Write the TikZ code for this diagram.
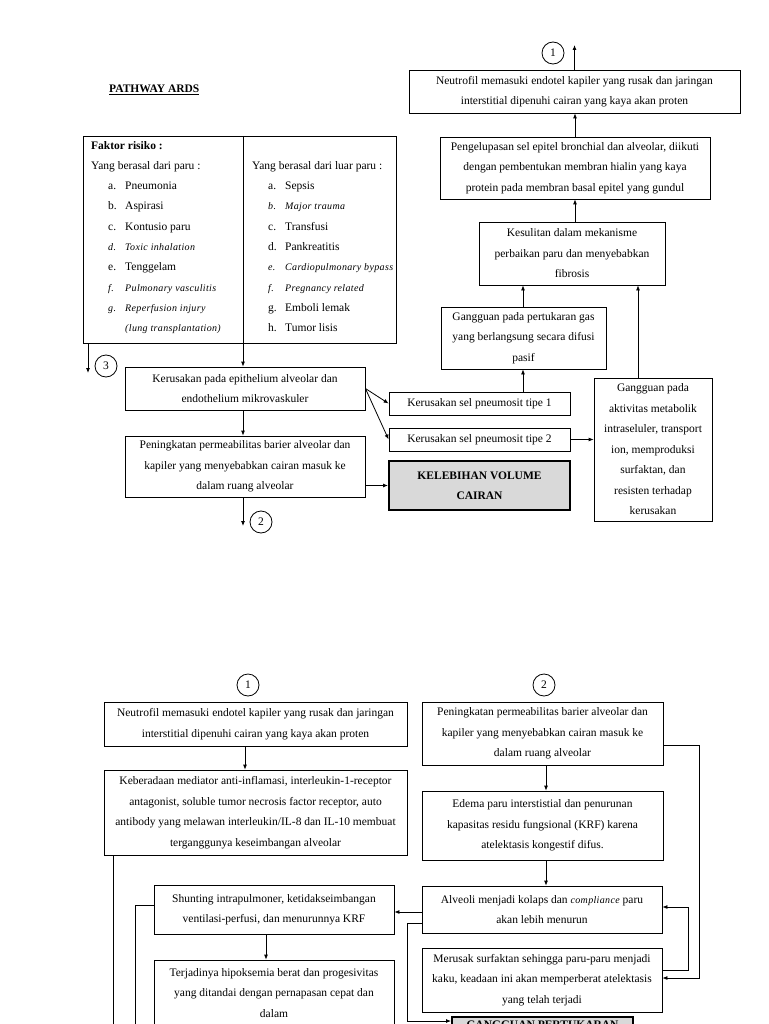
\documentclass[tikz,border=0pt]{standalone}
\usepackage{fontspec}
\setmainfont{Liberation Serif}
\newfontfamily\spit[LetterSpace=3.5]{Liberation Serif}
\usetikzlibrary{arrows.meta,calc}
\newcommand\myfs{\fontsize{11.5}{20.5}\selectfont}
\newcommand\myit{\spit\itshape\fontsize{10}{20.5}\selectfont}
\tikzset{
  box/.style={draw, line width=0.8pt, align=center, inner sep=0pt, font=\myfs},
  graybox/.style={box, fill=black!15, line width=2pt, font=\myfs\bfseries},
  circ/.style={draw, circle, line width=0.8pt, minimum size=22pt, inner sep=0pt, font=\myfs},
  ln/.style={line width=0.8pt},
  arr/.style={line width=0.8pt, -{Latex[length=5pt,width=4pt]}},
  itm/.style={anchor=base west, inner sep=0pt, font=\myfs},
  itmi/.style={anchor=base west, inner sep=0pt, font=\myit},
}
\begin{document}
\begin{tikzpicture}[x=1pt,y=-1pt]
\useasboundingbox (0,0) rectangle (768,1024);
\clip (0,0) rectangle (768,1024);

% ---------- top part ----------
\node[anchor=base west, inner sep=0pt, font=\myfs\bfseries] (title) at (109,93) {\underline{PATHWAY ARDS}};

\node[circ] (c1t) at (553,53) {1};
\node[box, minimum width=331, minimum height=43] (N1) at (574.5,91.5)
  {Neutrofil memasuki endotel kapiler yang rusak dan jaringan\\interstitial dipenuhi cairan yang kaya akan proten};
\node[box, minimum width=270, minimum height=62] (P) at (575,168)
  {Pengelupasan sel epitel bronchial dan alveolar, diikuti\\dengan pembentukan membran hialin yang kaya\\protein pada membran basal epitel yang gundul};
\node[box, minimum width=186, minimum height=63] (K) at (572,253.5)
  {Kesulitan dalam mekanisme\\perbaikan paru dan menyebabkan\\fibrosis};
\node[box, minimum width=165, minimum height=62] (G) at (523.5,338)
  {Gangguan pada pertukaran gas\\yang berlangsung secara difusi\\pasif};
\node[box, minimum width=181, minimum height=23] (T1) at (479.5,403.5) {Kerusakan sel pneumosit tipe 1};
\node[box, minimum width=181, minimum height=23] (T2) at (479.5,439.5) {Kerusakan sel pneumosit tipe 2};
\node[graybox, minimum width=181, minimum height=49] (KV) at (479.5,485.5) {KELEBIHAN VOLUME\\CAIRAN};
\node[box, minimum width=118, minimum height=143] (M) at (653,449.5)
  {Gangguan pada\\aktivitas metabolik\\intraseluler, transport\\ion, memproduksi\\surfaktan, dan\\resisten terhadap\\kerusakan};

% risk factor box
\node[draw, line width=0.8pt, minimum width=313, minimum height=207, inner sep=0pt] (F) at (239.5,239.5) {};
\coordinate (dv) at (243,136);
\draw[ln] (dv) -- (dv |- F.south);

\node[itm, font=\myfs\bfseries] (fh) at (91,150) {Faktor risiko :};
\node[itm] (fl0) at (91,170) {Yang berasal dari paru :};
\node[itm] (fr0) at (252,170) {Yang berasal dari luar paru :};

\node[itm] (la1) at (108,190) {a.}; \node[itm] (lt1) at (125,190) {Pneumonia};
\node[itm] (la2) at (108,210) {b.}; \node[itm] (lt2) at (125,210) {Aspirasi};
\node[itm] (la3) at (108,230) {c.}; \node[itm] (lt3) at (125,230) {Kontusio paru};
\node[itmi] (la4) at (108,250) {d.}; \node[itmi] (lt4) at (125,250) {Toxic inhalation};
\node[itm] (la5) at (108,270) {e.}; \node[itm] (lt5) at (125,270) {Tenggelam};
\node[itmi] (la6) at (108,291) {f.}; \node[itmi] (lt6) at (125,291) {Pulmonary vasculitis};
\node[itmi] (la7) at (108,311) {g.}; \node[itmi] (lt7) at (125,311) {Reperfusion injury};
\node[itmi] (lt8) at (125,331) {(lung transplantation)};

\node[itm] (ra1) at (268,190) {a.}; \node[itm] (rt1) at (285,190) {Sepsis};
\node[itmi] (ra2) at (268,210) {b.}; \node[itmi] (rt2) at (285,210) {Major trauma};
\node[itm] (ra3) at (268,230) {c.}; \node[itm] (rt3) at (285,230) {Transfusi};
\node[itm] (ra4) at (268,250) {d.}; \node[itm] (rt4) at (285,250) {Pankreatitis};
\node[itmi] (ra5) at (268,270) {e.}; \node[itmi] (rt5) at (285,270) {Cardiopulmonary bypass};
\node[itmi] (ra6) at (268,291) {f.}; \node[itmi] (rt6) at (285,291) {Pregnancy related};
\node[itm] (ra7) at (268,311) {g.}; \node[itm] (rt7) at (285,311) {Emboli lemak};
\node[itm] (ra8) at (268,331) {h.}; \node[itm] (rt8) at (285,331) {Tumor lisis};

\node[box, minimum width=240, minimum height=43] (E) at (245,388.5)
  {Kerusakan pada epithelium alveolar dan\\endothelium mikrovaskuler};
\node[box, minimum width=240, minimum height=61] (PB) at (245,466.5)
  {Peningkatan permeabilitas barier alveolar dan\\kapiler yang menyebabkan cairan masuk ke\\dalam ruang alveolar};
\node[circ] (c3) at (106,366) {3};
\node[circ] (c2t) at (261,522) {2};

% top connectors
\coordinate (u1) at (574,45);
\draw[arr] (N1.north) -- (N1.north |- u1);
\draw[arr] (P.north) -- (P.north |- N1.south);
\draw[arr] (K.north -| P.north) -- (P.south);
\coordinate (kx) at (523,0);
\draw[arr] (G.north -| kx) -- (kx |- K.south);
\coordinate (mx) at (638,0);
\draw[arr] (M.north -| mx) -- (mx |- K.south);
\draw[arr] (T1.north -| kx) -- (kx |- G.south);
\draw[arr] (T2.east) -- (T2.east -| M.west);
\draw[arr] (E.east) -- (T1.west);
\draw[arr] (E.east) -- (T2.west);
\draw[arr] (PB.east |- KV.west) -- (KV.west);
\draw[arr] (dv |- F.south) -- (dv |- E.north);
\draw[arr] (E.south -| dv) -- (PB.north -| dv);
\coordinate (d2) at (243,526);
\draw[arr] (PB.south -| d2) -- (d2);
\coordinate (d3) at (88,373);
\draw[arr] (F.south -| d3) -- (d3);

% ---------- bottom part ----------
\node[circ] (c1b) at (248,685) {1};
\node[circ] (c2b) at (544,685) {2};
\node[box, minimum width=303, minimum height=44] (N1b) at (255.5,724)
  {Neutrofil memasuki endotel kapiler yang rusak dan jaringan\\interstitial dipenuhi cairan yang kaya akan proten};
\node[box, minimum width=303, minimum height=85] (KB) at (255.5,812.5)
  {Keberadaan mediator anti-inflamasi, interleukin-1-receptor\\antagonist, soluble tumor necrosis factor receptor, auto\\antibody yang melawan interleukin/IL-8 dan IL-10 membuat\\terganggunya keseimbangan alveolar};
\node[box, minimum width=241, minimum height=63] (PB2) at (542.5,733.5)
  {Peningkatan permeabilitas barier alveolar dan\\kapiler yang menyebabkan cairan masuk ke\\dalam ruang alveolar};
\node[box, minimum width=241, minimum height=69] (ED) at (542.5,825.5)
  {Edema paru interstistial dan penurunan\\kapasitas residu fungsional (KRF) karena\\atelektasis kongestif difus.};
\node[box, minimum width=240, minimum height=47] (AL) at (542,909.5)
  {Alveoli menjadi kolaps dan {\myit compliance} paru\\akan lebih menurun};
\node[box, minimum width=240, minimum height=64] (MR) at (542,980)
  {Merusak surfaktan sehingga paru-paru menjadi\\kaku, keadaan ini akan memperberat atelektasis\\yang telah terjadi};
\node[graybox, minimum width=181, minimum height=36] (GB) at (542.5,1035) {GANGGUAN PERTUKARAN\\GAS};
\node[box, minimum width=240, minimum height=66] (TJ) at (274,993)
  {Terjadinya hipoksemia berat dan progesivitas\\yang ditandai dengan pernapasan cepat dan\\dalam};
\node[box, minimum width=240, minimum height=49] (SH) at (274,909.5)
  {Shunting intrapulmoner, ketidakseimbangan\\ventilasi-perfusi, dan menurunnya KRF};

% bottom connectors
\coordinate (bx) at (245,0);
\draw[arr] (N1b.south -| bx) -- (KB.north -| bx);
\coordinate (kbl) at (113,1030);
\draw[ln] (KB.south -| kbl) -- (kbl);
\coordinate (ex) at (546,0);
\draw[arr] (PB2.south -| ex) -- (ED.north -| ex);
\draw[arr] (ED.south -| ex) -- (AL.north -| ex);
\coordinate (r1) at (699,745);
\coordinate (r2) at (699,978);
\draw[arr] (PB2.east |- r1) -- (r1) -- (r2) -- (MR.east |- r2);
\coordinate (q1) at (688,970);
\coordinate (q2) at (688,907);
\draw[arr] (MR.east |- q1) -- (q1) -- (q2) -- (AL.east |- q2);
\coordinate (s1) at (0,912);
\draw[arr] (AL.west |- s1) -- (SH.east |- s1);
\coordinate (g1) at (407,923);
\coordinate (g2) at (407,1021);
\draw[arr] (AL.west |- g1) -- (g1) -- (g2) -- (GB.west |- g2);
\coordinate (h1) at (135,905);
\coordinate (h2) at (135,1030);
\draw[ln] (SH.west |- h1) -- (h1) -- (h2);
\coordinate (tx) at (266,0);
\draw[arr] (SH.south -| tx) -- (TJ.north -| tx);
\end{tikzpicture}
\end{document}
